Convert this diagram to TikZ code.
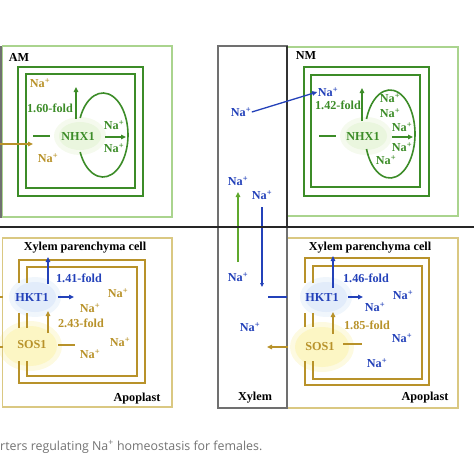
\documentclass[tikz,border=0pt]{standalone}
\usepackage{fontspec}
\setmainfont{Liberation Serif}
\newfontfamily\capfont{Open Sans}
\usetikzlibrary{arrows.meta}

\definecolor{dgreen}{RGB}{60,140,40}
\definecolor{xgreen}{RGB}{95,168,45}
\definecolor{lgreen}{RGB}{170,212,142}
\definecolor{gold}{RGB}{184,146,42}
\definecolor{ltan}{RGB}{218,200,130}
\definecolor{nblue}{RGB}{35,65,185}
\definecolor{xgray}{RGB}{112,112,112}
\definecolor{glowg}{RGB}{234,246,222}
\definecolor{glowb}{RGB}{226,236,250}
\definecolor{glowy}{RGB}{252,246,196}

\newcommand{\naion}{Na\textsuperscript{+}}

\begin{document}
\begin{tikzpicture}[x=1pt,y=-1pt,
    lab/.style={font=\bfseries\fontsize{12.2}{12}\selectfont, inner sep=0.5pt},
    arr/.style={-{Triangle[length=5pt,width=4.5pt]}, line width=1.5pt},
    wall/.style={line width=1.8pt}]
    \useasboundingbox (0,0) rectangle (474,474);

    % glows behind the transporters
    \fill[glowg!50] (80,136) ellipse (26 and 19);
    \fill[glowg] (80,136) ellipse (21 and 14);
    \fill[glowg!50] (366,136) ellipse (26 and 19);
    \fill[glowg] (366,136) ellipse (21 and 14);
    \fill[glowb!50] (35,297) ellipse (26 and 20);
    \fill[glowb] (35,297) ellipse (21 and 15);
    \fill[glowy!50] (30,346) ellipse (32 and 25);
    \fill[glowy] (30,346) ellipse (27 and 20);
    \fill[glowb!50] (326,297) ellipse (26 and 20);
    \fill[glowb] (326,297) ellipse (21 and 15);
    \fill[glowy!50] (322,347) ellipse (32 and 25);
    \fill[glowy] (322,347) ellipse (27 and 20);

    % AM
    \draw[xgray, line width=1.6pt] (0.8,46) -- (0.8,218);
    \draw[lgreen, wall] (2.5,46) rectangle (172,217);
    \draw[dgreen, wall] (18,67) rectangle (143,196);
    \draw[dgreen, wall] (26,74) rectangle (135,188);
    \draw[dgreen, line width=1.6pt] (103,135) ++(204:25 and 42) arc (204:516:25 and 42);
    \node[lab] (am) at (19,57) {AM};
    \node[lab, dgreen] (nhxa) at (78,136) {NHX1};
    \node[lab, gold] (amna1) at (40,83) {\naion};
    \node[lab, dgreen] (amfold) at (50,108) {1.60-fold};
    \node[lab, dgreen] (amna2) at (114,125) {\naion};
    \node[lab, dgreen] (amna3) at (114,148) {\naion};
    \node[lab, gold] (amna4) at (48,158) {\naion};
    \coordinate (amup1) at (76,119);
    \coordinate (amup2) at (76,87);
    \coordinate (amd1) at (33,136);
    \coordinate (amd2) at (50,136);
    \coordinate (amr1) at (105,137);
    \coordinate (amr2) at (126,137);
    \coordinate (amin1) at (0,144);
    \coordinate (amin2) at (33,144);
    \draw[arr, dgreen] (amup1) -- (amup2);
    \draw[dgreen, line width=1.6pt] (amd1) -- (amd2);
    \draw[arr, dgreen] (amr1) -- (amr2);
    \draw[arr, gold] (amin1) -- (amin2);

    % NM
    \draw[lgreen, wall] (287,47) rectangle (458,216);
    \draw[dgreen, wall] (304,67) rectangle (429,196);
    \draw[dgreen, wall] (311,75) rectangle (420,187);
    \draw[dgreen, line width=1.6pt] (390,134) ++(200:25 and 44) arc (200:520:25 and 44);
    \node[lab] (nm) at (306,56) {NM};
    \node[lab, dgreen] (nhxn) at (363,136) {NHX1};
    \node[lab, nblue] (nmna1) at (328,92) {\naion};
    \node[lab, dgreen] (nmfold) at (338,105) {1.42-fold};
    \node[lab, dgreen] (nmna2) at (390,98) {\naion};
    \node[lab, dgreen] (nmna3) at (390,113) {\naion};
    \node[lab, dgreen] (nmna4) at (402,127) {\naion};
    \node[lab, dgreen] (nmna5) at (402,147) {\naion};
    \node[lab, dgreen] (nmna6) at (386,160) {\naion};
    \coordinate (nmup1) at (362,121);
    \coordinate (nmup2) at (362,88);
    \coordinate (nmd1) at (319,136);
    \coordinate (nmd2) at (336,136);
    \coordinate (nmr1) at (392,137);
    \coordinate (nmr2) at (413,137);
    \draw[arr, dgreen] (nmup1) -- (nmup2);
    \draw[dgreen, line width=1.6pt] (nmd1) -- (nmd2);
    \draw[arr, dgreen] (nmr1) -- (nmr2);

    % parenchyma, left
    \draw[ltan, wall] (2.5,238) rectangle (172,407);
    \draw[gold, wall] (19,283) -- (19,260) -- (145,260) -- (145,383) -- (19,383) -- (19,361);
    \draw[gold, wall] (27,283) -- (27,267) -- (137,267) -- (137,376) -- (27,376) -- (27,361);
    \draw[gold, wall] (19,313) -- (19,328);
    \draw[gold, wall] (27,313) -- (27,328);
    \node[lab] (xpl) at (85,248) {Xylem parenchyma cell};
    \node[lab] (apl) at (137,399) {Apoplast};
    \node[lab, nblue] (hktl) at (32,297) {HKT1};
    \node[lab, gold] (sosl) at (32,345) {SOS1};
    \node[lab, nblue] (lfold1) at (79,278) {1.41-fold};
    \node[lab, gold] (lfold2) at (81,323) {2.43-fold};
    \node[lab, gold] (lna1) at (118,293) {\naion};
    \node[lab, gold] (lna2) at (90,308) {\naion};
    \node[lab, gold] (lna3) at (120,342) {\naion};
    \node[lab, gold] (lna4) at (90,354) {\naion};
    \coordinate (lup1) at (48,284);
    \coordinate (lup2) at (48,257);
    \coordinate (lr1) at (58,297);
    \coordinate (lr2) at (74,297);
    \coordinate (lup3) at (48,333);
    \coordinate (lup4) at (48,311);
    \coordinate (ld1) at (58,345);
    \coordinate (ld2) at (75,345);
    \coordinate (lt1) at (0,297);
    \coordinate (lt2) at (3,297);
    \coordinate (lt3) at (0,347);
    \coordinate (lt4) at (3,347);
    \draw[arr, nblue, line width=1.3pt] (lup1) -- (lup2);
    \draw[arr, nblue, line width=1.3pt] (lr1) -- (lr2);
    \draw[arr, gold] (lup3) -- (lup4);
    \draw[gold, line width=1.6pt] (ld1) -- (ld2);
    \draw[gold, line width=1.4pt] (lt1) -- (lt2);
    \draw[gold, line width=1.4pt] (lt3) -- (lt4);

    % parenchyma, right
    \draw[ltan, wall] (287,238) rectangle (458,408);
    \draw[gold, wall] (305,283) -- (305,258) -- (429,258) -- (429,385) -- (305,385) -- (305,361);
    \draw[gold, wall] (313,283) -- (313,266) -- (422,266) -- (422,379) -- (313,379) -- (313,361);
    \draw[gold, wall] (305,313) -- (305,327);
    \draw[gold, wall] (313,313) -- (313,327);
    \node[lab] (xpr) at (370,248) {Xylem parenchyma cell};
    \node[lab] (apr) at (425,398) {Apoplast};
    \node[lab, nblue] (hktr) at (322,297) {HKT1};
    \node[lab, gold] (sosr) at (320,347) {SOS1};
    \node[lab, nblue] (rfold1) at (366,278) {1.46-fold};
    \node[lab, gold] (rfold2) at (367,325) {1.85-fold};
    \node[lab, nblue] (rna1) at (403,295) {\naion};
    \node[lab, nblue] (rna2) at (375,307) {\naion};
    \node[lab, nblue] (rna3) at (402,338) {\naion};
    \node[lab, nblue] (rna4) at (377,363) {\naion};
    \coordinate (rup1) at (333,288);
    \coordinate (rup2) at (333,256);
    \coordinate (rr1) at (348,297);
    \coordinate (rr2) at (363,297);
    \coordinate (rup3) at (333,334);
    \coordinate (rup4) at (333,312);
    \coordinate (rd1) at (343,344);
    \coordinate (rd2) at (362,344);
    \draw[arr, nblue, line width=1.3pt] (rup1) -- (rup2);
    \draw[arr, nblue, line width=1.3pt] (rr1) -- (rr2);
    \draw[arr, gold] (rup3) -- (rup4);
    \draw[gold, line width=1.6pt] (rd1) -- (rd2);

    % xylem
    \draw[xgray, wall] (218,46) rectangle (287,408);
    \draw[black!80, line width=1.8pt] (287,46) -- (287,227);
    \node[lab] (xyl) at (255,398) {Xylem};
    \node[lab, nblue] (xna1) at (241,112) {\naion};
    \node[lab, nblue] (xna2) at (238,181) {\naion};
    \node[lab, nblue] (xna3) at (262,195) {\naion};
    \node[lab, nblue] (xna4) at (238,277) {\naion};
    \node[lab, nblue] (xna5) at (250,327) {\naion};
    \coordinate (xg1) at (238,262);
    \coordinate (xg2) at (238,192);
    \coordinate (xb1) at (262,207);
    \coordinate (xb2) at (262,287);
    \coordinate (xh1) at (268,297);
    \coordinate (xh2) at (287,297);
    \coordinate (xs1) at (288,347);
    \coordinate (xs2) at (267,347);
    \draw[nblue, line width=1.3pt, -{Triangle[length=5pt,width=4.5pt]}] (xna1.east) -- (nmna1.west);
    \draw[arr, xgreen] (xg1) -- (xg2);
    \draw[nblue, line width=1.1pt, -{Triangle[length=4pt,width=3.5pt]}] (xb1) -- (xb2);
    \draw[nblue, line width=1.5pt] (xh1) -- (xh2);
    \draw[arr, gold] (xs1) -- (xs2);

    % divider and caption
    \draw[black!85, line width=1.4pt] (0,227) -- (474,227);
    \node[font=\capfont\fontsize{12.4}{13}\selectfont, text=black!55, anchor=west, inner sep=0pt] (cap) at (0,447) {rters regulating Na\textsuperscript{+} homeostasis for females.};
\end{tikzpicture}
\end{document}
